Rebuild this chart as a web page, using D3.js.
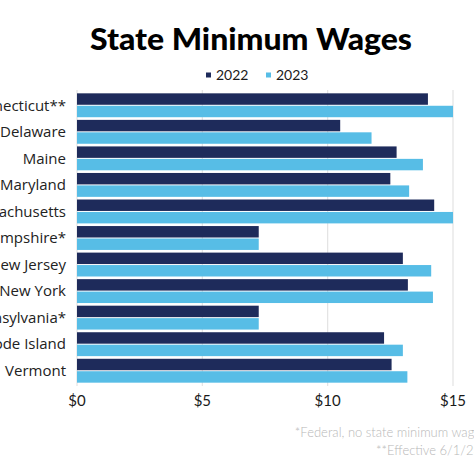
<!doctype html>
<html>
<head>
<meta charset="utf-8">
<script src="https://d3js.org/d3.v7.min.js"></script>
<style>
  body { margin: 0; background: #fff; }
  svg { display: block; }
</style>
</head>
<body>
<svg id="chart"></svg>
<script>
    // data
    var states = ["Connecticut**", "Delaware", "Maine", "Maryland", "Massachusetts",
                  "New Hampshire*", "New Jersey", "New York", "Pennsylvania*",
                  "Rhode Island", "Vermont"];
    var years = ["2022", "2023"];
    var wage2022 = [14.00, 10.50, 12.75, 12.50, 14.25, 7.25, 13.00, 13.20, 7.25, 12.25, 12.55];
    var wage2023 = [15.00, 11.75, 13.80, 13.25, 15.00, 7.25, 14.13, 14.20, 7.25, 13.00, 13.18];
    var ticks = [0, 5, 10, 15];
    var notes = ["*Federal, no state minimum wage", "**Effective 6/1/23"];

    var W = 474, H = 474;
    var colors = {"2022": "#1e2b5b", "2023": "#57bde6"};

    var svg = d3.select("#chart").attr("width", W).attr("height", H);

    var x = d3.scaleLinear().domain([0, 15]).range([77, 453]);
    var y = d3.scaleBand().domain(states).range([92, 384])
        .paddingInner(0.1).paddingOuter(0.05);
    var sub = d3.scaleBand().domain(years).range([0, y.bandwidth()]).paddingInner(0.08);

    // gridlines
    svg.append("g").selectAll("line").data(ticks).join("line")
        .attr("x1", d => x(d)).attr("x2", d => x(d))
        .attr("y1", 90).attr("y2", 386)
        .attr("stroke", "#e3e3e3").attr("stroke-width", 1.2);

    var rows = states.map((s, i) => ({state: s, vals: [
        {year: "2022", v: wage2022[i]}, {year: "2023", v: wage2023[i]}]}));

    var g = svg.append("g").selectAll("g").data(rows).join("g")
        .attr("transform", d => `translate(0,${y(d.state)})`);

    g.selectAll("rect").data(d => d.vals).join("rect")
        .attr("x", x(0))
        .attr("y", d => sub(d.year))
        .attr("width", d => x(d.v) - x(0))
        .attr("height", sub.bandwidth())
        .attr("fill", d => colors[d.year]);

    // category labels (the reference is cropped on the left)
    svg.append("g").selectAll("text").data(states).join("text")
        .attr("x", 66)
        .attr("y", d => y(d) + y.bandwidth() / 2)
        .attr("dy", "0.35em")
        .attr("text-anchor", "end")
        .attr("font-family", "Open Sans, sans-serif")
        .attr("font-size", 15)
        .attr("fill", "#222")
        .text(d => d);

    // x axis labels
    svg.append("g").selectAll("text").data(ticks).join("text")
        .attr("x", d => x(d))
        .attr("y", 406)
        .attr("text-anchor", "middle")
        .attr("font-family", "Lato, sans-serif")
        .attr("font-size", 15)
        .attr("fill", "#1a1a1a")
        .text(d => "$" + d);

    // title
    svg.append("text")
        .attr("x", 251).attr("y", 50)
        .attr("text-anchor", "middle")
        .attr("font-family", "Lato, sans-serif")
        .attr("font-weight", 900)
        .attr("font-size", 31)
        .attr("textLength", 322)
        .attr("lengthAdjust", "spacingAndGlyphs")
        .attr("fill", "#000")
        .text("State Minimum Wages");

    // legend
    var legX = [206, 266];
    var leg = svg.append("g").selectAll("g").data(years).join("g")
        .attr("transform", (d, i) => `translate(${legX[i]},75)`);
    leg.append("rect").attr("x", 0).attr("y", -2.5).attr("width", 5).attr("height", 5)
        .attr("fill", d => colors[d]);
    leg.append("text").attr("x", 10).attr("dy", "0.35em")
        .attr("font-family", "Lato, sans-serif")
        .attr("font-size", 14)
        .attr("fill", "#1a1a1a")
        .text(d => d);

    // footnotes (cropped on the right in the reference)
    svg.append("g").selectAll("text").data(notes).join("text")
        .attr("x", 481)
        .attr("y", (d, i) => 437 + i * 17.5)
        .attr("text-anchor", "end")
        .attr("font-family", "Lato, sans-serif")
        .attr("font-weight", 300)
        .attr("font-size", 13)
        .attr("fill", "#b8b8b8")
        .text(d => d);
</script>
</body>
</html>
